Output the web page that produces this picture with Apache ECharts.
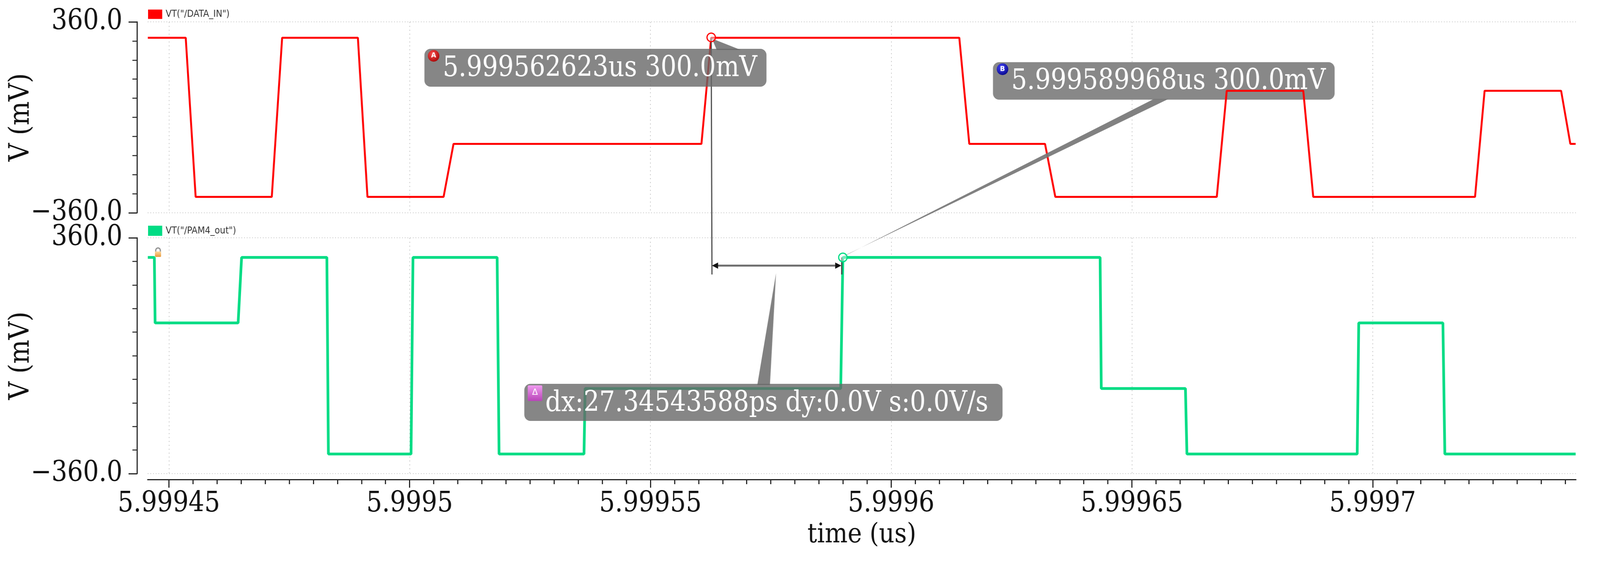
<!DOCTYPE html>
<html><head><meta charset="utf-8">
<script src="https://cdn.jsdelivr.net/npm/echarts@6/dist/echarts.min.js"></script>
<style>html,body{margin:0;padding:0;background:#fff;overflow:hidden}#c{width:4182px;height:1447px;transform-origin:0 0}</style>
</head><body><div id="c"></div>
<script>
// ---- data (time in us, voltage in mV) ----
const seriesNames = ['VT("/DATA_IN")', 'VT("/PAM4_out")'];
const redTime = [5.99944563, 5.99945350, 5.99945556, 5.99947137, 5.99947352, 5.99948925, 5.99949124,
  5.99950705, 5.99950911, 5.99956060, 5.99956262, 5.99961415, 5.99961622, 5.99963195, 5.99963409,
  5.99966762, 5.99966969, 5.99968558, 5.99968765, 5.99972125, 5.99972324, 5.99973913, 5.99974104, 5.99974215];
const redMv = [300, 300, -300, -300, 300, 300, -300,
  -300, -100, -100, 300, 300, -100, -100, -300,
  -300, 100, 100, -300, -300, 100, 100, -100, -100];
const greenTime = [5.99944563, 5.99944698, 5.99944714, 5.99946438, 5.99946510, 5.99948281, 5.99948313,
  5.99950029, 5.99950069, 5.99951817, 5.99951857, 5.99953621, 5.99953645, 5.99958952, 5.99958997,
  5.99964339, 5.99964363, 5.99966111, 5.99966142, 5.99969678, 5.99969710, 5.99971458, 5.99971498, 5.99974215];
const greenMv = [300, 300, 100, 100, 300, 300, -300,
  -300, 300, 300, -300, -300, -100, -100, 300,
  300, -100, -100, -300, -300, 100, 100, -300, -300];
const xTickLabels = [5.99945, 5.9995, 5.99955, 5.9996, 5.99965, 5.9997];
const xMin = 5.9994456, xMax = 5.9997422;
const yMin = -360, yMax = 360;
const markerA = [5.999562623, 300];   // top panel
const markerB = [5.999589968, 300];   // bottom panel
const labelA = '5.999562623us 300.0mV';
const labelB = '5.999589968us 300.0mV';
const labelDelta = 'dx:27.34543588ps dy:0.0V s:0.0V/s';
// annotation anchors in data coordinates
const boxAAnchor = [5.99950307, 258.4];  // top panel
const boxBAnchor = [5.99962114, 208];    // top panel
const boxDAnchor = [5.99952381, -85.8];  // bottom panel
const deltaTip = [5.99957609, 251.5];    // bottom panel
const arrowMv = 275, cursorEndMv = 248;  // bottom panel

const minorTicks = [];
for (let k = 0; k < 60; k++) { if (k % 10 !== 0) minorTicks.push(+(5.99945 + k * 0.000005).toFixed(7)); }

const redData = redTime.map((t, i) => [t, redMv[i]]);
const greenData = greenTime.map((t, i) => [t, greenMv[i]]);

// fit the 4182x1447 drawing into the real viewport
const W = 4182, H = 1447;
const box = document.getElementById('c');
box.style.transform = 'scale(' + Math.min(1, window.innerWidth / W) + ',' + Math.min(1, window.innerHeight / H) + ')';

// ---- styles ----
const serif = '"DejaVu Serif Condensed", "DejaVu Serif", "Liberation Serif", serif';
const axisCol = '#262626';
const RED = '#ff0000', GREEN = '#00dc84';
const hDot = { show: true, lineStyle: { color: '#c6c6c6', width: 2, type: [2, 5] } };
const vDot = { show: true, lineStyle: { color: '#cdcdcd', width: 2, type: [3, 7] } };
const fmtY = v => (v < 0 ? '\u2212' : '') + Math.abs(v).toFixed(1);
const fmtX = v => String(+v.toFixed(6));

function yAxes(grid) {
  return [
    { gridIndex: grid, type: 'value', min: yMin, max: yMax, interval: 720, position: 'left', offset: 28,
      axisLine: { show: true, onZero: false, lineStyle: { color: axisCol, width: 3 } },
      axisTick: { show: true, length: 22, lineStyle: { color: axisCol, width: 3 } },
      axisLabel: { formatter: fmtY, fontFamily: serif, fontSize: 72, color: '#111', margin: 38, padding: [12, 0, 0, 0] },
      splitLine: hDot,
      name: 'V (mV)', nameLocation: 'middle', nameGap: 266, nameMoveOverlap: false,
      nameTextStyle: { fontFamily: serif, fontSize: 72, color: '#111' } },
    { gridIndex: grid, type: 'value', min: yMin, max: yMax, interval: 72, position: 'left', offset: 28,
      axisLine: { show: false, onZero: false },
      axisTick: { show: true, length: 12, lineStyle: { color: axisCol, width: 2.5 } },
      axisLabel: { show: false }, splitLine: { show: false } }
  ];
}

const legendText = { fontFamily: '"Liberation Sans Narrow", "DejaVu Sans Condensed", sans-serif', fontSize: 25, color: '#333', padding: [0, 0, 0, 4] };

const option = {
  animation: false,
  backgroundColor: '#ffffff',
  grid: [
    { left: 386, right: 63, top: 56, height: 489, containLabel: false, outerBoundsMode: 'none' },
    { left: 386, right: 63, top: 609, height: 604, containLabel: false, outerBoundsMode: 'none' }
  ],
  legend: [
    { data: [seriesNames[0]], left: 387, top: 24, icon: 'rect', itemWidth: 37, itemHeight: 24, padding: 0, selectedMode: false, textStyle: legendText },
    { data: [seriesNames[1]], left: 387, top: 578, icon: 'rect', itemWidth: 37, itemHeight: 26, padding: 0, selectedMode: false, textStyle: legendText }
  ],
  xAxis: [
    { gridIndex: 0, type: 'value', min: xMin, max: xMax,
      axisLine: { show: false, onZero: false }, axisTick: { show: false, customValues: xTickLabels },
      axisLabel: { show: false, customValues: xTickLabels }, splitLine: vDot },
    { gridIndex: 1, type: 'value', min: xMin, max: xMax, position: 'bottom', offset: 15,
      axisLine: { show: true, onZero: false, lineStyle: { color: axisCol, width: 3 } },
      axisTick: { show: true, customValues: xTickLabels, length: 21, lineStyle: { color: axisCol, width: 3 } },
      axisLabel: { customValues: xTickLabels, formatter: fmtX, fontFamily: serif, fontSize: 72, color: '#111', margin: 27 },
      splitLine: vDot,
      name: 'time (us)', nameLocation: 'middle', nameGap: 108, nameMoveOverlap: false,
      nameTextStyle: { fontFamily: serif, fontSize: 70, color: '#111' } },
    { gridIndex: 1, type: 'value', min: xMin, max: xMax, position: 'bottom', offset: 15,
      axisLine: { show: false, onZero: false },
      axisTick: { show: true, customValues: minorTicks, length: 12, lineStyle: { color: axisCol, width: 3 } },
      axisLabel: { show: false }, splitLine: { show: false } }
  ],
  yAxis: [].concat(yAxes(0), yAxes(1)),
  series: [
    { name: seriesNames[0], type: 'line', xAxisIndex: 0, yAxisIndex: 0, data: redData, symbol: 'none', showSymbol: false,
      lineStyle: { color: RED, width: 5 }, itemStyle: { color: RED }, z: 3 },
    { name: seriesNames[1], type: 'line', xAxisIndex: 1, yAxisIndex: 2, data: greenData, symbol: 'none', showSymbol: false,
      lineStyle: { color: GREEN, width: 7 }, itemStyle: { color: GREEN }, z: 3 }
  ]
};

const chart = echarts.init(box, null, { renderer: 'canvas', width: W, height: H });
chart.setOption(option);

// ---- annotations positioned through the chart's own scales ----
const P = (si, v) => chart.convertToPixel({ seriesIndex: si }, v);
const pA = P(0, markerA), pB = P(1, markerB);
const bA = P(0, boxAAnchor), bB = P(0, boxBAnchor), bD = P(1, boxDAnchor);
const tip = P(1, deltaTip);
const yArrow = P(1, [markerA[0], arrowMv])[1];
const yEnd = P(1, [markerA[0], cursorEndMv])[1];
const corner = P(1, [xMin, yMax]);

const boxFill = 'rgba(104,104,104,0.8)';
const wedgeFill = 'rgba(118,118,118,0.92)';
const g = [];
g.push({ type: 'rect', z: 1, shape: { x: bB[0], y: bB[1], width: 893, height: 96, r: 16 }, style: { fill: '#888888' } });
g.push({ type: 'text', z: 1, x: bB[0] + 48, y: bB[1] + 50, style: { text: labelB, fill: '#ffffff', fontFamily: serif, fontSize: 72, verticalAlign: 'middle' } });
g.push({ type: 'polygon', z: 5, shape: { points: [[bB[0] + 421, bB[1] + 94], [bB[0] + 459, bB[1] + 94], [pB[0] + 5, pB[1] - 5], [pB[0] + 1, pB[1] - 2]] }, style: { fill: wedgeFill } });
g.push({ type: 'line', z: 4, shape: { x1: pA[0], y1: pA[1], x2: pA[0] + 2, y2: yEnd }, style: { stroke: '#4a4a4a', lineWidth: 3 } });
g.push({ type: 'line', z: 4, shape: { x1: pB[0] - 3, y1: pB[1], x2: pB[0] - 3, y2: yEnd }, style: { stroke: '#3a3a3a', lineWidth: 3 } });
g.push({ type: 'line', z: 4, shape: { x1: pA[0] + 8, y1: yArrow, x2: pB[0] - 10, y2: yArrow }, style: { stroke: '#6e6e6e', lineWidth: 5 } });
g.push({ type: 'polygon', z: 4, shape: { points: [[pA[0] + 2, yArrow], [pA[0] + 18, yArrow - 8], [pA[0] + 18, yArrow + 8]] }, style: { fill: '#111' } });
g.push({ type: 'polygon', z: 4, shape: { points: [[pB[0] - 4, yArrow], [pB[0] - 20, yArrow - 8], [pB[0] - 20, yArrow + 8]] }, style: { fill: '#111' } });
g.push({ type: 'polygon', z: 6, shape: { points: [[pA[0] + 2, pA[1] + 2], [bA[0] + 764, bA[1] + 3], [bA[0] + 827, bA[1] + 3]] }, style: { fill: wedgeFill } });
g.push({ type: 'rect', z: 6, shape: { x: bA[0], y: bA[1], width: 894, height: 97, r: 16 }, style: { fill: boxFill } });
g.push({ type: 'text', z: 7, x: bA[0] + 48, y: bA[1] + 51, style: { text: labelA, fill: '#ffffff', fontFamily: serif, fontSize: 72, verticalAlign: 'middle' } });
g.push({ type: 'polygon', z: 6, shape: { points: [[bD[0] + 609, bD[1] + 3], [bD[0] + 642, bD[1] + 3], [tip[0], tip[1]]] }, style: { fill: wedgeFill } });
g.push({ type: 'rect', z: 6, shape: { x: bD[0], y: bD[1], width: 1250, height: 95, r: 16 }, style: { fill: boxFill } });
g.push({ type: 'text', z: 7, x: bD[0] + 55, y: bD[1] + 51, style: { text: labelDelta, fill: '#ffffff', fontFamily: serif, fontSize: 72, verticalAlign: 'middle' } });
function ball(cx, cy, c1, c2, letter) {
  g.push({ type: 'circle', z: 8, shape: { cx: cx, cy: cy, r: 15 }, style: { fill: { type: 'radial', x: 0.4, y: 0.35, r: 0.75, colorStops: [{ offset: 0, color: c1 }, { offset: 1, color: c2 }] } } });
  g.push({ type: 'text', z: 9, x: cx, y: cy, style: { text: letter, fill: '#fff', fontSize: 17, fontWeight: 'bold', fontFamily: 'DejaVu Sans', align: 'center', verticalAlign: 'middle' } });
}
ball(bA[0] + 24, bA[1] + 18, '#ff5050', '#a00000', 'A');
ball(bB[0] + 25, bB[1] + 18, '#4a4aff', '#000080', 'B');
g.push({ type: 'rect', z: 8, shape: { x: bD[0] + 9, y: bD[1] + 4, width: 38, height: 40, r: 3 }, style: { fill: { type: 'linear', x: 0, y: 0, x2: 0, y2: 1, colorStops: [{ offset: 0, color: '#f09af0' }, { offset: 1, color: '#b845b8' }] } } });
g.push({ type: 'text', z: 9, x: bD[0] + 28, y: bD[1] + 22, style: { text: '\u0394', fill: '#fff', fontSize: 22, fontFamily: 'DejaVu Sans', align: 'center', verticalAlign: 'middle' } });
g.push({ type: 'circle', z: 8, shape: { cx: pA[0], cy: pA[1] - 1, r: 11 }, style: { fill: 'rgba(255,255,255,0.45)', stroke: RED, lineWidth: 3 } });
g.push({ type: 'circle', z: 8, shape: { cx: pB[0], cy: pB[1], r: 11 }, style: { fill: 'rgba(255,255,255,0.45)', stroke: GREEN, lineWidth: 3 } });
g.push({ type: 'arc', z: 8, shape: { cx: corner[0] + 27, cy: corner[1] + 32, r: 6, startAngle: Math.PI, endAngle: 2 * Math.PI }, style: { stroke: '#8a8a8a', lineWidth: 3, fill: 'none' } });
g.push({ type: 'line', z: 8, shape: { x1: corner[0] + 21, y1: corner[1] + 32, x2: corner[0] + 21, y2: corner[1] + 36 }, style: { stroke: '#8a8a8a', lineWidth: 3 } });
g.push({ type: 'line', z: 8, shape: { x1: corner[0] + 33, y1: corner[1] + 32, x2: corner[0] + 33, y2: corner[1] + 36 }, style: { stroke: '#8a8a8a', lineWidth: 3 } });
g.push({ type: 'rect', z: 8, shape: { x: corner[0] + 19, y: corner[1] + 35, width: 16, height: 14, r: 2 }, style: { fill: { type: 'linear', x: 0, y: 0, x2: 0, y2: 1, colorStops: [{ offset: 0, color: '#ffd9a0' }, { offset: 1, color: '#e89a3a' }] } } });

chart.setOption({ graphic: { elements: g } });
</script>
</body></html>
